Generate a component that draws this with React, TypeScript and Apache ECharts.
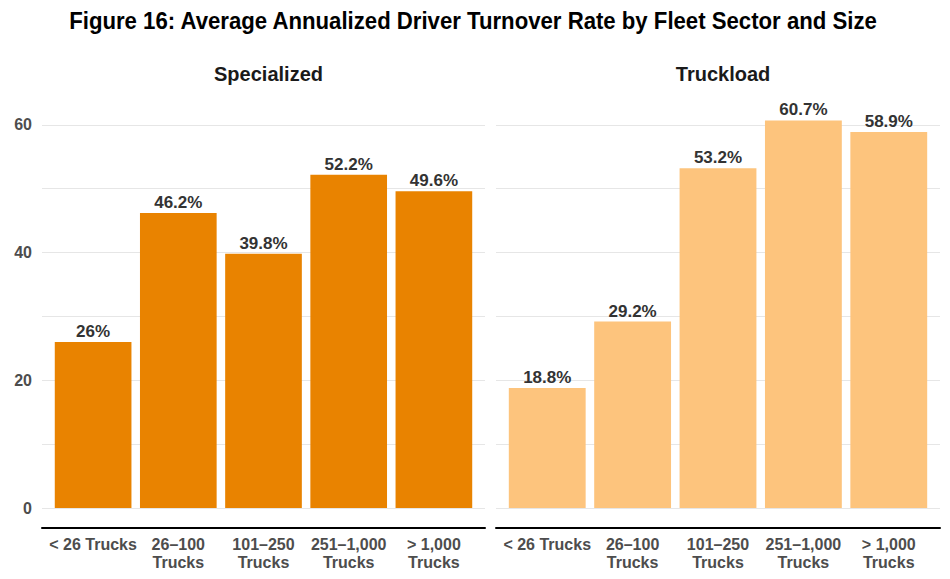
import React, { useEffect, useRef } from "react";
import * as echarts from "echarts";

const mainTitle = "Figure 16: Average Annualized Driver Turnover Rate by Fleet Sector and Size";
const panelTitles = ["Specialized", "Truckload"];
const sizeCategories = ["< 26 Trucks", "26–100\nTrucks", "101–250\nTrucks", "251–1,000\nTrucks", "> 1,000\nTrucks"];
const specialized = [26, 46.2, 39.8, 52.2, 49.6];
const truckload = [18.8, 29.2, 53.2, 60.7, 58.9];
const yTickLabels = [0, 20, 40, 60];

const FONT = "'Liberation Sans', Arial, sans-serif";

export default function App() {
  const ref = useRef<HTMLDivElement>(null);

  useEffect(() => {
    if (!ref.current) return;
    const chart = echarts.init(ref.current, null, { renderer: "svg" });

    const titleFont = "bold 24px 'Liberation Sans'";
    let sx = 0.76;
    const cv = document.createElement("canvas").getContext("2d");
    if (cv) {
      cv.font = titleFont;
      const w = cv.measureText(mainTitle).width;
      if (w > 0) sx = 810 / w;
    }

    const allMax = Math.max(...specialized, ...truckload);
    const yMax = allMax * 1.05;
    const gridTop = 101;
    const gridH = 407;
    const panels = [
      { left: 42, width: 443 },
      { left: 496, width: 444 },
    ];
    const xMin = -0.6;
    const xMax = sizeCategories.length - 1 + 0.6;
    const seriesData = [specialized, truckload];
    const colors = ["#E98300", "#FDC47D"];

    const gridColors = ["#e6e6e6", "#e6e6e6", "#e6e6e6", "#e6e6e6", "#e6e6e6", "#e6e6e6", "#e6e6e6", "transparent"];

    chart.setOption({
      animation: false,
      backgroundColor: "#ffffff",
      textStyle: { fontFamily: FONT },
      graphic: [
        {
          type: "text",
          x: 473,
          y: 21,
          scaleX: sx,
          style: {
            text: mainTitle,
            font: titleFont,
            fill: "#000000",
            textAlign: "center",
            textVerticalAlign: "middle",
            align: "center",
            verticalAlign: "middle",
          },
        },
      ],
      title: panels.map((p, i) => ({
        text: panelTitles[i],
        left: p.left + p.width / 2,
        textAlign: "center",
        top: 59,
        textStyle: { fontFamily: FONT, fontSize: 20, fontWeight: "bold", color: "#1a1a1a" },
      })),
      grid: panels.map((p) => ({ left: p.left, width: p.width, top: gridTop, height: gridH })),
      xAxis: panels.map((p, i) => ({
        type: "value",
        gridIndex: i,
        min: xMin,
        max: xMax,
        minInterval: 1,
        maxInterval: 1,
        splitNumber: 5,
        offset: 20,
        splitLine: { show: false },
        axisTick: { show: false },
        axisLine: { show: true, onZero: false, lineStyle: { color: "#000000", width: 2 } },
        axisLabel: {
          margin: 7,
          fontFamily: FONT,
          fontSize: 16,
          fontWeight: "bold",
          color: "#4d4d4d",
          lineHeight: 18,
          formatter: (v: number) => {
            const r = Math.round(v);
            return Math.abs(v - r) < 1e-6 && r >= 0 && r < sizeCategories.length ? sizeCategories[r] : "";
          },
        },
      })),
      yAxis: panels.map((p, i) => ({
        type: "value",
        gridIndex: i,
        min: 0,
        max: yMax,
        interval: 10,
        axisLine: { show: false },
        axisTick: { show: false },
        splitLine: { show: true, lineStyle: { color: gridColors, width: 1.2 } },
        axisLabel: {
          show: i === 0,
          margin: 10,
          fontFamily: FONT,
          fontSize: 16,
          fontWeight: "bold",
          color: "#4d4d4d",
          formatter: (v: number) => (yTickLabels.indexOf(v) >= 0 ? String(v) : ""),
        },
      })),
      series: seriesData.map((d, i) => ({
        type: "bar",
        xAxisIndex: i,
        yAxisIndex: i,
        barWidth: (0.9 * panels[i].width) / (xMax - xMin),
        data: d.map((v, k) => [k, v]),
        itemStyle: { color: colors[i] },
        label: {
          show: true,
          position: "top",
          distance: 2,
          fontFamily: FONT,
          fontSize: 17,
          fontWeight: "bold",
          color: "#333333",
          formatter: (p: any) => `${p.value[1]}%`,
        },
      })),
    });

    return () => {
      chart.dispose();
    };
  }, []);

  return (
    <div
      ref={ref}
      style={{ position: "fixed", left: 0, top: 0, width: 950, height: 579, background: "#fff" }}
    />
  );
}
